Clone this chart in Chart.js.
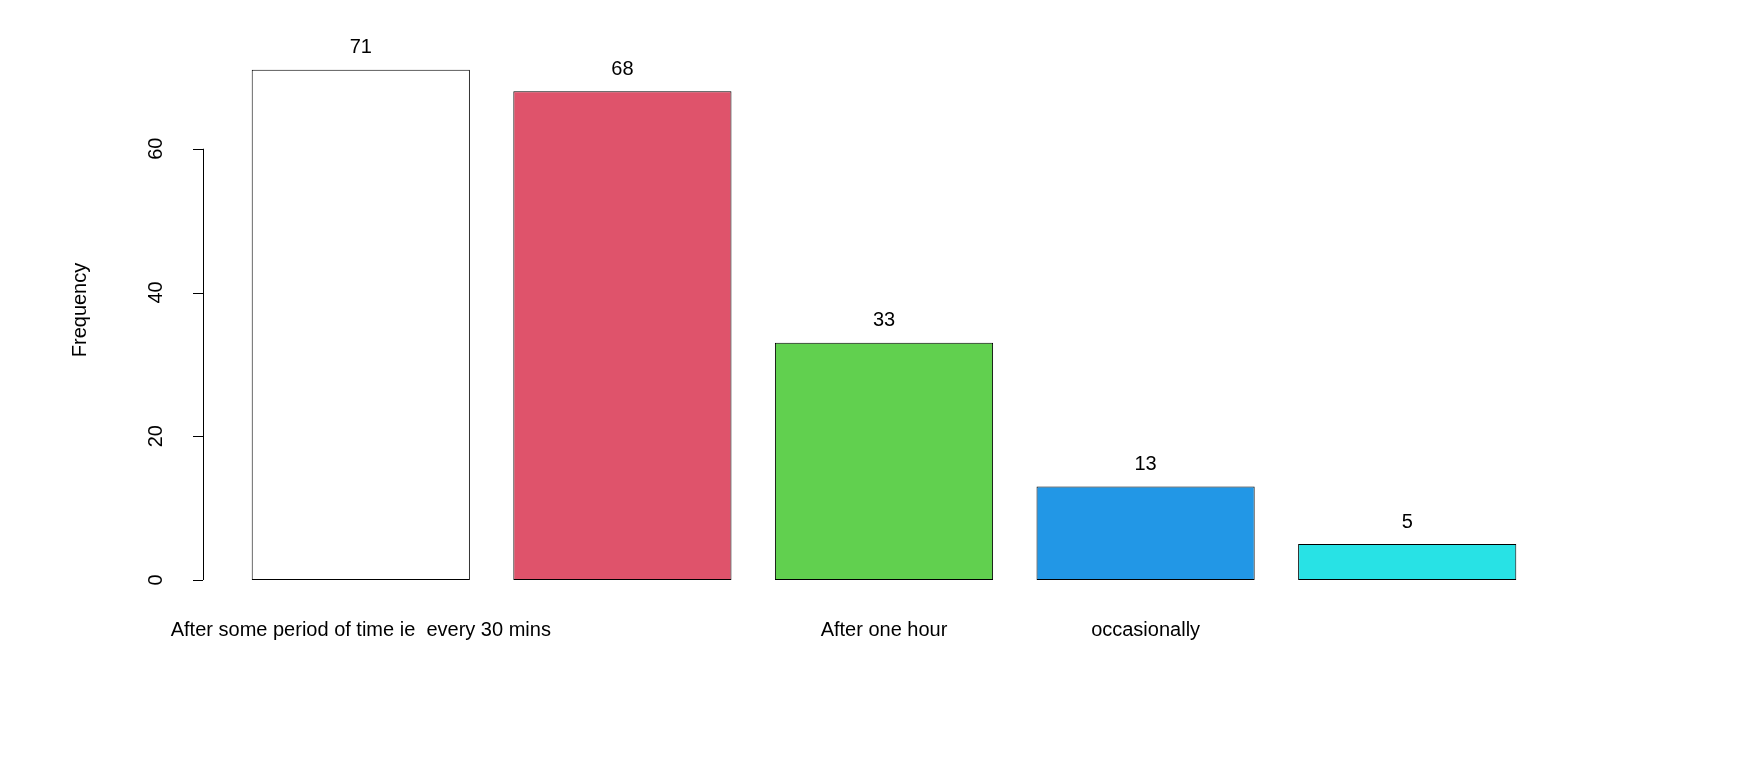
<!DOCTYPE html>
<html>
<head>
<meta charset="utf-8">
<script src="https://cdn.jsdelivr.net/npm/chart.js@4"></script>
<style>
  html, body { margin: 0; padding: 0; background: #fff; }
  #wrap { width: 1756px; height: 766px; }
</style>
</head>
<body>
<div id="wrap"><canvas id="chart-area"></canvas></div>
<script>
// data
var categories = ['After some period of time ie  every 30 mins', '', 'After one hour', 'occasionally', ''];
var frequency = [71, 68, 33, 13, 5];
var barColors = ['#FFFFFF', '#DF536B', '#61D04F', '#2297E6', '#28E2E5'];
var yTicks = [0, 20, 40, 60];
var yTitle = 'Frequency';

var FONT = '20px "Liberation Sans", Arial, sans-serif';

// R style axis, bar labels and category labels
var rStyle = {
    id: 'rStyle',
    afterDatasetsDraw: function (chart) {
        var ctx = chart.ctx;
        var y = chart.scales.y, x = chart.scales.x;
        var axisX = 203;
        ctx.save();
        ctx.strokeStyle = '#000';
        ctx.fillStyle = '#000';
        ctx.lineWidth = 1;
        ctx.font = FONT;

        // y axis line and ticks
        ctx.beginPath();
        ctx.moveTo(axisX + 0.5, y.getPixelForValue(yTicks[0]));
        ctx.lineTo(axisX + 0.5, y.getPixelForValue(yTicks[yTicks.length - 1]));
        yTicks.forEach(function (t) {
            var py = Math.round(y.getPixelForValue(t)) + 0.5;
            ctx.moveTo(axisX, py);
            ctx.lineTo(axisX - 10, py);
        });
        ctx.stroke();

        // rotated tick labels
        ctx.textAlign = 'center';
        ctx.textBaseline = 'middle';
        yTicks.forEach(function (t) {
            ctx.save();
            ctx.translate(156, y.getPixelForValue(t));
            ctx.rotate(-Math.PI / 2);
            ctx.fillText(String(t), 0, 0);
            ctx.restore();
        });
        ctx.save();
        ctx.translate(80, 310);
        ctx.rotate(-Math.PI / 2);
        ctx.fillText(yTitle, 0, 0);
        ctx.restore();

        // values above bars and category labels
        var meta = chart.getDatasetMeta(0);
        meta.data.forEach(function (bar, i) {
            ctx.textBaseline = 'middle';
            ctx.fillText(String(frequency[i]), bar.x, bar.y - 22);
            if (categories[i]) ctx.fillText(categories[i], bar.x, 630);
        });
        ctx.restore();
    }
};

var ctx = document.getElementById('chart-area').getContext('2d');
window.freqChart = new Chart(ctx, {
    type: 'bar',
    data: {
        labels: categories,
        datasets: [{
            data: frequency,
            backgroundColor: barColors,
            borderColor: '#000',
            borderWidth: 1,
            borderSkipped: false,
            categoryPercentage: 0.834,
            barPercentage: 1
        }]
    },
    options: {
        responsive: true,
        maintainAspectRatio: false,
        animation: false,
        layout: { padding: { left: 230, right: 218, top: 5, bottom: 186 } },
        plugins: { legend: { display: false }, tooltip: { enabled: false } },
        scales: {
            x: { display: false, offset: true },
            y: { display: false, min: 0, max: 80 }
        }
    },
    plugins: [rStyle]
});
</script>
</body>
</html>
